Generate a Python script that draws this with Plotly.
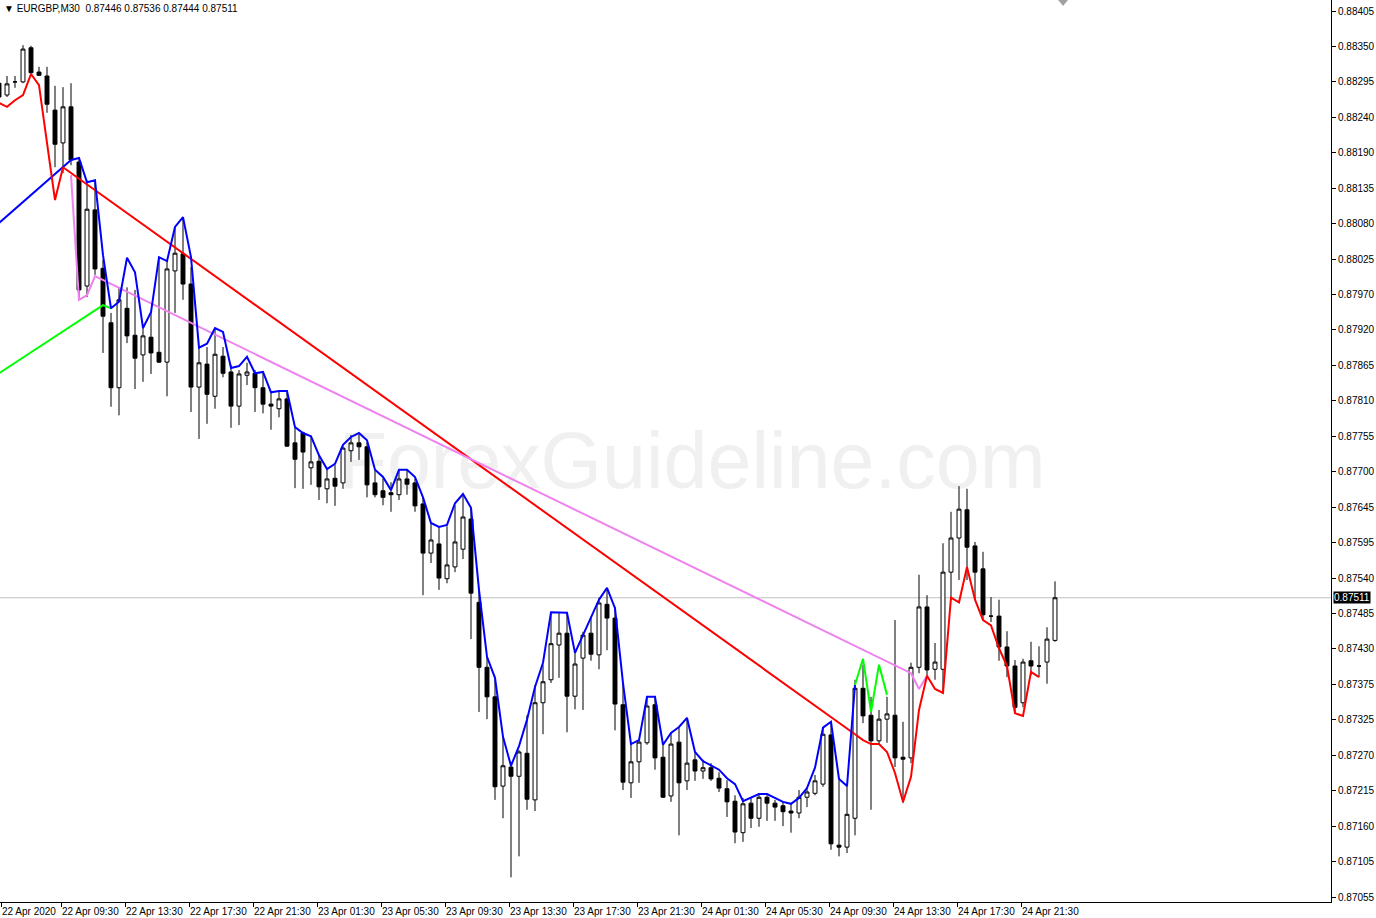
import plotly.graph_objects as go

# ---------------- data (EURGBP M30, bars indexed 0..132) ----------------
open_ = [0.88295, 0.88277, 0.88297, 0.88297, 0.88349, 0.88312, 0.88306, 0.88254, 0.88204, 0.88259,
         0.88175, 0.87986, 0.88102, 0.88013, 0.87930, 0.87831, 0.87952, 0.87911, 0.87881, 0.87908,
         0.87885, 0.87870, 0.88009, 0.88035, 0.87989, 0.87832, 0.87867, 0.87818, 0.87879, 0.87855,
         0.87803, 0.87850, 0.87853, 0.87831, 0.87806, 0.87799, 0.87814, 0.87747, 0.87762, 0.87709,
         0.87719, 0.87677, 0.87693, 0.87686, 0.87735, 0.87747, 0.87741, 0.87686, 0.87674, 0.87671,
         0.87668, 0.87692, 0.87686, 0.87654, 0.87579, 0.87593, 0.87540, 0.87558, 0.87585, 0.87631,
         0.87504, 0.87405, 0.87360, 0.87224, 0.87253, 0.87239, 0.87274, 0.87203, 0.87351, 0.87386,
         0.87439, 0.87457, 0.87361, 0.87419, 0.87457, 0.87424, 0.87501, 0.87480, 0.87348, 0.87229,
         0.87261, 0.87290, 0.87348, 0.87268, 0.87209, 0.87291, 0.87232, 0.87264, 0.87247, 0.87252,
         0.87236, 0.87220, 0.87201, 0.87153, 0.87198, 0.87175, 0.87207, 0.87198, 0.87194, 0.87186,
         0.87183, 0.87207, 0.87213, 0.87227, 0.87302, 0.87134, 0.87131, 0.87175, 0.87373, 0.87332,
         0.87293, 0.87326, 0.87332, 0.87268, 0.87267, 0.87405, 0.87497, 0.87402, 0.87402, 0.87550,
         0.87602, 0.87645, 0.87590, 0.87555, 0.87483, 0.87483, 0.87436, 0.87407, 0.87351, 0.87415,
         0.87407, 0.87413, 0.87446]
high = [0.88303, 0.88306, 0.88306, 0.88353, 0.88352, 0.88320, 0.88320, 0.88291, 0.88289, 0.88295,
        0.88179, 0.88147, 0.88147, 0.88026, 0.87945, 0.87984, 0.87984, 0.87980, 0.87922, 0.87946,
        0.88030, 0.88026, 0.88076, 0.88091, 0.88015, 0.87893, 0.87893, 0.87922, 0.87893, 0.87866,
        0.87858, 0.87869, 0.87858, 0.87855, 0.87824, 0.87826, 0.87824, 0.87770, 0.87764, 0.87756,
        0.87728, 0.87709, 0.87713, 0.87742, 0.87759, 0.87760, 0.87748, 0.87706, 0.87693, 0.87687,
        0.87706, 0.87706, 0.87693, 0.87663, 0.87625, 0.87619, 0.87620, 0.87652, 0.87668, 0.87648,
        0.87523, 0.87421, 0.87386, 0.87299, 0.87261, 0.87279, 0.87332, 0.87378, 0.87409, 0.87489,
        0.87489, 0.87488, 0.87428, 0.87459, 0.87482, 0.87511, 0.87523, 0.87497, 0.87381, 0.87290,
        0.87294, 0.87360, 0.87360, 0.87287, 0.87305, 0.87314, 0.87325, 0.87276, 0.87264, 0.87259,
        0.87245, 0.87233, 0.87210, 0.87206, 0.87206, 0.87213, 0.87210, 0.87203, 0.87200, 0.87198,
        0.87218, 0.87223, 0.87241, 0.87314, 0.87320, 0.87233, 0.87226, 0.87386, 0.87409, 0.87360,
        0.87340, 0.87360, 0.87477, 0.87322, 0.87412, 0.87546, 0.87515, 0.87442, 0.87594, 0.87642,
        0.87681, 0.87677, 0.87596, 0.87581, 0.87512, 0.87508, 0.87460, 0.87416, 0.87418, 0.87444,
        0.87437, 0.87466, 0.87536]
low = [0.88269, 0.88274, 0.88288, 0.88295, 0.88307, 0.88306, 0.88250, 0.88167, 0.88158, 0.88170,
       0.87965, 0.87969, 0.88003, 0.87884, 0.87802, 0.87789, 0.87899, 0.87829, 0.87840, 0.87852,
       0.87869, 0.87818, 0.87945, 0.87965, 0.87794, 0.87753, 0.87776, 0.87799, 0.87847, 0.87770,
       0.87774, 0.87835, 0.87794, 0.87792, 0.87767, 0.87786, 0.87741, 0.87678, 0.87677, 0.87683,
       0.87660, 0.87655, 0.87651, 0.87677, 0.87718, 0.87721, 0.87664, 0.87664, 0.87652, 0.87642,
       0.87660, 0.87668, 0.87642, 0.87515, 0.87564, 0.87523, 0.87533, 0.87550, 0.87570, 0.87448,
       0.87337, 0.87326, 0.87203, 0.87175, 0.87085, 0.87117, 0.87188, 0.87186, 0.87303, 0.87381,
       0.87389, 0.87306, 0.87341, 0.87340, 0.87415, 0.87402, 0.87431, 0.87309, 0.87218, 0.87206,
       0.87229, 0.87287, 0.87249, 0.87206, 0.87200, 0.87149, 0.87218, 0.87232, 0.87235, 0.87232,
       0.87215, 0.87177, 0.87137, 0.87139, 0.87160, 0.87162, 0.87171, 0.87171, 0.87163, 0.87153,
       0.87175, 0.87192, 0.87210, 0.87223, 0.87127, 0.87117, 0.87122, 0.87149, 0.87320, 0.87188,
       0.87287, 0.87290, 0.87253, 0.87198, 0.87259, 0.87396, 0.87390, 0.87386, 0.87366, 0.87508,
       0.87538, 0.87538, 0.87508, 0.87477, 0.87474, 0.87415, 0.87390, 0.87335, 0.87344, 0.87393,
       0.87390, 0.87380, 0.87444]
close = [0.88274, 0.88294, 0.88297, 0.88347, 0.88311, 0.88307, 0.88263, 0.88202, 0.88259, 0.88178,
         0.87980, 0.88103, 0.88012, 0.87940, 0.87831, 0.87965, 0.87910, 0.87876, 0.87910, 0.87884,
         0.87870, 0.88012, 0.88036, 0.87989, 0.87832, 0.87869, 0.87821, 0.87882, 0.87853, 0.87803,
         0.87852, 0.87855, 0.87831, 0.87806, 0.87803, 0.87814, 0.87742, 0.87722, 0.87733, 0.87718,
         0.87680, 0.87692, 0.87681, 0.87739, 0.87747, 0.87741, 0.87683, 0.87668, 0.87664, 0.87668,
         0.87692, 0.87684, 0.87651, 0.87579, 0.87599, 0.87541, 0.87561, 0.87596, 0.87634, 0.87518,
         0.87405, 0.87360, 0.87223, 0.87255, 0.87239, 0.87276, 0.87204, 0.87351, 0.87383, 0.87441,
         0.87457, 0.87361, 0.87410, 0.87454, 0.87425, 0.87503, 0.87480, 0.87349, 0.87230, 0.87261,
         0.87291, 0.87346, 0.87267, 0.87207, 0.87288, 0.87229, 0.87259, 0.87247, 0.87252, 0.87235,
         0.87221, 0.87200, 0.87154, 0.87197, 0.87175, 0.87207, 0.87198, 0.87192, 0.87185, 0.87183,
         0.87207, 0.87215, 0.87232, 0.87303, 0.87136, 0.87131, 0.87181, 0.87373, 0.87331, 0.87293,
         0.87326, 0.87334, 0.87267, 0.87265, 0.87405, 0.87497, 0.87401, 0.87413, 0.87550, 0.87602,
         0.87646, 0.87588, 0.87550, 0.87485, 0.87483, 0.87436, 0.87407, 0.87344, 0.87413, 0.87407,
         0.87407, 0.87448, 0.87511]
bars = list(range(len(open_)))

# indicator / trend lines (bar index, price)
blue_start_x = [0, 9]
blue_start_y = [0.88082, 0.88178]
blue_y = [0.88178, 0.88181, 0.88144, 0.88147, 0.88033, 0.87952, 0.87962, 0.88029, 0.88007, 0.87922,
          0.87946, 0.88030, 0.88024, 0.88076, 0.88091, 0.88030, 0.87892, 0.87898, 0.87922, 0.87916,
          0.87861, 0.87864, 0.87878, 0.87853, 0.87855, 0.87824, 0.87826, 0.87826, 0.87771, 0.87762,
          0.87757, 0.87728, 0.87707, 0.87715, 0.87744, 0.87756, 0.87762, 0.87751, 0.87706, 0.87695,
          0.87675, 0.87706, 0.87706, 0.87695, 0.87664, 0.87625, 0.87619, 0.87622, 0.87655, 0.87669,
          0.87648, 0.87523, 0.87421, 0.87389, 0.87299, 0.87255, 0.87285, 0.87325, 0.87375, 0.87412,
          0.87489, 0.87489, 0.87488, 0.87427, 0.87454, 0.87482, 0.87508, 0.87526, 0.87495, 0.87381,
          0.87288, 0.87294, 0.87360, 0.87360, 0.87287, 0.87305, 0.87314, 0.87328, 0.87276, 0.87262,
          0.87256, 0.87249, 0.87236, 0.87227, 0.87201, 0.87207, 0.87212, 0.87212, 0.87206, 0.87200,
          0.87197, 0.87206, 0.87221, 0.87252, 0.87313, 0.87322, 0.87235, 0.87224, 0.87378]
blue_x = list(range(9, 9 + len(blue_y)))

green_late_x = [107, 108, 109, 110, 111]
green_late_y = [0.87378, 0.87418, 0.87337, 0.87409, 0.87363]

green_start_x = [0, 13, 14]
green_start_y = [0.87853, 0.87957, 0.87952]

red_start_x = [0, 1, 2, 3, 4, 5, 6, 7, 8]
red_start_y = [0.88265, 0.88259, 0.88269, 0.88277, 0.88309, 0.88292, 0.88204, 0.88117, 0.88167]

red_trend_x = [8, 107]
red_trend_y = [0.88167, 0.87303]

red_late_y = [0.87303, 0.87294, 0.87288, 0.87288, 0.87276, 0.87244, 0.87200, 0.87238, 0.87340, 0.87392,
              0.87372, 0.87366, 0.87511, 0.87504, 0.87558, 0.87508, 0.87477, 0.87469, 0.87434, 0.87407,
              0.87335, 0.87331, 0.87398, 0.87390]
red_late_x = list(range(107, 107 + len(red_late_y)))

pink_x = [9, 10, 11, 12, 114, 115, 116]
pink_y = [0.88155, 0.87965, 0.87972, 0.88001, 0.87396, 0.87372, 0.87392]

x_tick_bars = [0, 8, 16, 24, 32, 40, 48, 56, 64, 72, 80, 88, 96, 104, 112, 120, 128]
x_tick_text = ["22 Apr 2020", "22 Apr 09:30", "22 Apr 13:30", "22 Apr 17:30", "22 Apr 21:30",
               "23 Apr 01:30", "23 Apr 05:30", "23 Apr 09:30", "23 Apr 13:30", "23 Apr 17:30",
               "23 Apr 21:30", "24 Apr 01:30", "24 Apr 05:30", "24 Apr 09:30", "24 Apr 13:30",
               "24 Apr 17:30", "24 Apr 21:30"]
y_tick_text = ["0.88405", "0.88350", "0.88295", "0.88240", "0.88190", "0.88135", "0.88080",
               "0.88025", "0.87970", "0.87920", "0.87865", "0.87810", "0.87755", "0.87700",
               "0.87645", "0.87595", "0.87540", "0.87485", "0.87430", "0.87375", "0.87325",
               "0.87270", "0.87215", "0.87160", "0.87105", "0.87055"]
last_price = 0.87511
header = "EURGBP,M30  0.87446 0.87536 0.87444 0.87511"

# ---------------- figure ----------------
FONT = "Liberation Sans, Arial, sans-serif"
y_top, y_step = 0.88405, 0.00054
y_tick_vals = [y_top - i * y_step for i in range(len(y_tick_text))]
x_tick_vals = [0.25] + [b - 0.25 for b in x_tick_bars[1:]]

fig = go.Figure()
fig.add_trace(go.Candlestick(
    x=bars, open=open_, high=high, low=low, close=close,
    increasing=dict(line=dict(color="black", width=1), fillcolor="white"),
    decreasing=dict(line=dict(color="black", width=1), fillcolor="black"),
    whiskerwidth=0, showlegend=False, hoverinfo="skip"))

def line(x, y, color):
    fig.add_trace(go.Scatter(x=x, y=y, mode="lines", line=dict(color=color, width=2),
                             showlegend=False, hoverinfo="skip"))

line(green_start_x, green_start_y, "#00ff00")
line(blue_start_x, blue_start_y, "#0000ff")
line(red_trend_x, red_trend_y, "#ff0000")
line(pink_x, pink_y, "#ee82ee")
line(red_start_x, red_start_y, "#ff0000")
line(blue_x, blue_y, "#0000ff")
line(green_late_x, green_late_y, "#00ff00")
line(red_late_x, red_late_y, "#ff0000")

fig.update_layout(
    width=1376, height=918,
    margin=dict(l=0, r=45, t=0, b=16, autoexpand=False),
    paper_bgcolor="white", plot_bgcolor="white",
    font=dict(family=FONT, size=10, color="black"),
    boxgap=0.3,
    xaxis=dict(range=[0.125, 166.5], showgrid=False, zeroline=False,
               showline=True, linecolor="black", linewidth=1,
               ticks="outside", ticklen=4, tickcolor="black",
               tickvals=x_tick_vals, ticktext=x_tick_text,
               ticklabelposition="outside right", tickangle=0, automargin=False,
               tickfont=dict(family=FONT, size=10, color="black"),
               rangeslider=dict(visible=False), fixedrange=True),
    yaxis=dict(range=[0.870474, 0.884218], side="right", showgrid=False, zeroline=False,
               showline=True, linecolor="black", linewidth=1,
               ticks="outside", ticklen=4, tickcolor="black", automargin=False,
               tickvals=y_tick_vals, ticktext=y_tick_text,
               tickfont=dict(family=FONT, size=10, color="black"), fixedrange=True),
    shapes=[
        dict(type="rect", xref="paper", yref="paper", x0=0.2, x1=0.84, y0=0.437, y1=0.557,
             line=dict(width=0), fillcolor="rgba(0,0,0,0)", layer="below",
             label=dict(text="ForexGuideline.com", textposition="middle center",
                        font=dict(family=FONT, size=79, color="#f0f0f0"))),
        dict(type="line", xref="paper", yref="y", x0=0, x1=1, y0=last_price, y1=last_price,
             line=dict(color="#c0c0c0", width=1), layer="below"),
        dict(type="path", xref="paper", yref="paper",
             path="M 0.7950 1 L 0.8024 1 L 0.7987 0.9933 Z",
             fillcolor="#a0a0a0", line=dict(width=0)),
    ],
    annotations=[
        dict(xref="paper", yref="paper", x=0, y=1, xanchor="left", yanchor="top",
             text="\u25BC " + header, showarrow=False, xshift=2, yshift=-1,
             font=dict(family=FONT, size=10, color="black")),
        dict(xref="paper", yref="y", x=1, y=last_price, xanchor="left", yanchor="middle",
             text=f"{last_price:.5f}", showarrow=False, xshift=2, bgcolor="black",
             borderpad=0, font=dict(family=FONT, size=10, color="white")),
    ],
)

fig.write_html("out.html", config={"displayModeBar": False},
               post_script="document.body.style.margin='0px';document.body.style.padding='0px';")
